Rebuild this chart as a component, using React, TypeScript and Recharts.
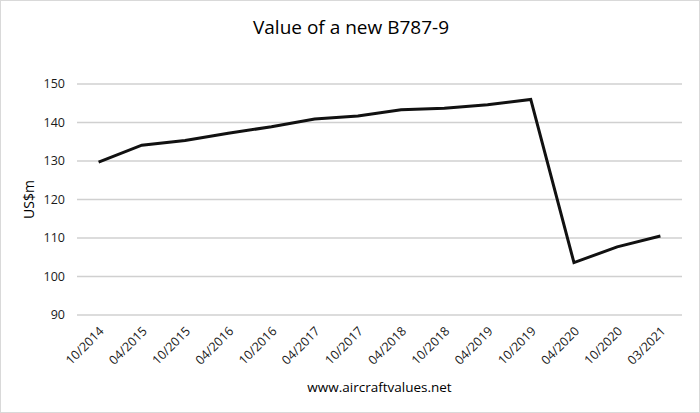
import { CartesianGrid, Label, Line, LineChart, XAxis, YAxis } from 'recharts';

const periods = [
    '10/2014', '04/2015', '10/2015', '04/2016', '10/2016', '04/2017', '10/2017',
    '04/2018', '10/2018', '04/2019', '10/2019', '04/2020', '10/2020', '03/2021'
];
const values = [129.7, 134.1, 135.3, 137.2, 138.9, 140.9, 141.7, 143.3, 143.7, 144.6, 146.0, 103.6, 107.7, 110.5];
const yTicks = [90, 100, 110, 120, 130, 140, 150];

const data = periods.map((p, i) => ({ period: p, value: values[i] }));

const font = '"Open Sans", sans-serif';

function AngledTick({ x, y, payload }: any) {
    return (
        <text
            x={x + 6}
            y={y + 9}
            transform={`rotate(-45, ${x + 6}, ${y + 9})`}
            textAnchor="end"
            fontSize={12.5}
            fontFamily={font}
            fill="#1a1a1a"
        >
            {payload.value}
        </text>
    );
}

export default function App() {
    return (
        <div
            style={{
                position: 'relative',
                width: 700,
                height: 413,
                boxSizing: 'border-box',
                border: '1px solid #d9d9d9',
                background: '#fff'
            }}
        >
            <style>{`body { margin: 0; }`}</style>
            <div
                style={{
                    position: 'absolute',
                    top: 13,
                    left: 0,
                    width: 700,
                    textAlign: 'center',
                    fontFamily: font,
                    fontSize: 19,
                    color: '#000'
                }}
            >
                Value of a new B787-9
            </div>
            <div style={{ position: 'absolute', top: -1, left: -1 }}>
                <LineChart
                    width={700}
                    height={413}
                    data={data}
                    margin={{ top: 84, right: 18, bottom: 0, left: 0 }}
                >
                    <CartesianGrid vertical={false} stroke="#d0d0d0" strokeWidth={1.5} />
                    <XAxis
                        dataKey="period"
                        axisLine={false}
                        tickLine={false}
                        interval={0}
                        height={98}
                        padding={{ left: 21.6, right: 21.6 }}
                        tick={<AngledTick />}
                    >
                        <Label
                            value="www.aircraftvalues.net"
                            position="insideBottom"
                            offset={21}
                            fontSize={13.5}
                            fontFamily={font}
                            fill="#000"
                        />
                    </XAxis>
                    <YAxis
                        domain={[90, 150]}
                        ticks={yTicks}
                        width={77}
                        axisLine={false}
                        tickLine={false}
                        tickMargin={6}
                        tick={{ fontSize: 12.5, fontFamily: font, fill: '#1a1a1a' }}
                    >
                        <Label
                            value="US$m"
                            angle={-90}
                            position="insideLeft"
                            offset={29}
                            fontSize={14}
                            fontFamily={font}
                            fill="#000"
                            style={{ textAnchor: 'middle' }}
                        />
                    </YAxis>
                    <Line
                        type="linear"
                        dataKey="value"
                        stroke="#111"
                        strokeWidth={3}
                        dot={false}
                        isAnimationActive={false}
                    />
                </LineChart>
            </div>
        </div>
    );
}
